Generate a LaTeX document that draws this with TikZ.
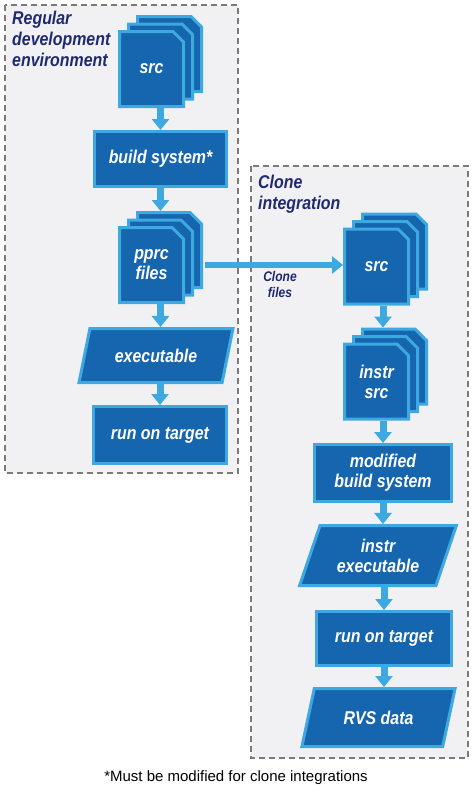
\documentclass[tikz,border=0pt]{standalone}
\usepackage{fontspec}
\setmainfont{Liberation Sans}
\newfontfamily\narrowfont[FakeStretch=0.86]{Liberation Sans}
\usetikzlibrary{arrows.meta,shapes.misc,shapes.geometric,shadows}
\definecolor{boxblue}{HTML}{1565AF}
\definecolor{edgeblue}{HTML}{3DA9E0}
\definecolor{navy}{HTML}{1F2970}
\definecolor{regionfill}{HTML}{F1F1F3}
\definecolor{dashgray}{HTML}{7A7A7A}
\begin{document}
\begin{tikzpicture}[x=1pt,y=-1pt,
  region/.style={draw=dashgray, fill=regionfill, line width=2pt, dash pattern=on 6pt off 4pt},
  heading/.style={anchor=north west, align=left, inner sep=0pt, text=navy,
    font=\narrowfont\bfseries\itshape\fontsize{18.5}{21}\selectfont},
  boxtext/.style={draw=edgeblue, fill=boxblue, line width=3pt, text=white, align=center, inner sep=2pt,
    font=\narrowfont\bfseries\itshape\fontsize{18.5}{20}\selectfont},
  stepbox/.style={boxtext, rectangle},
  databox/.style={boxtext, trapezium, trapezium left angle=68, trapezium right angle=112, trapezium stretches=true},
  docs/.style={boxtext, chamfered rectangle, chamfered rectangle corners=north east, chamfered rectangle xsep=8pt,
    minimum width=64pt, minimum height=75pt,
    copy shadow={shadow xshift=18pt, shadow yshift=15pt}, copy shadow={shadow xshift=9pt, shadow yshift=7.5pt}},
  flow/.style={draw=edgeblue, line width=7pt, -{Triangle[width=17pt,length=11pt]}}]
\useasboundingbox (0,0) rectangle (474,796);
% dashed regions
\draw [region] (5,5) rectangle (238,473);
\draw [region] (251,166) rectangle (468,758);
\node [heading] (devtitle) at (12,11) {Regular\\development\\environment};
\node [heading] (clonetitle) at (258,175) {Clone\\integration};
% regular flow
\node [docs] (srcA) at (151.5,69) {src};
\node [stepbox, minimum width=132pt, minimum height=55pt] (buildA) at (160.5,159) {build system*};
\node [docs] (pprc) at (151.5,265) {pprc\\files};
\node [databox, minimum width=155pt, minimum height=54pt] (execA) at (156,355.5) {executable};
\node [stepbox, minimum width=133pt, minimum height=57pt] (runA) at (160,435) {run on target};
% clone flow
\node [docs] (srcB) at (376.5,266.5) {src};
\node [docs] (instr) at (376.5,381.5) {instr\\src};
\node [stepbox, minimum width=137pt, minimum height=57pt] (buildB) at (383,473) {modified\\build system};
\node [databox, minimum width=157pt, minimum height=60pt] (execB) at (378,555.5) {instr\\executable};
\node [stepbox, minimum width=135pt, minimum height=54pt] (runB) at (384,638.5) {run on target};
\node [databox, minimum width=154pt, minimum height=58pt] (rvs) at (378.5,717.5) {RVS data};
\coordinate (pprctop) at ([yshift=15pt]pprc.north);
\coordinate (instrtop) at ([yshift=15pt]instr.north);
\draw [flow] (srcA.south -| buildA.north) -- (buildA.north);
\draw [flow] (buildA.south) -- (buildA.south |- pprctop);
\draw [flow] (pprc.south -| buildA.south) -- (execA.north -| buildA.south);
\draw [flow] (execA.south -| runA.north) -- (runA.north);
\draw [flow, line width=6pt] ([xshift=20pt]pprc.east) -- (srcB.west |- pprc.east);
\node [text=navy, align=center, inner sep=0pt, font=\narrowfont\bfseries\itshape\fontsize{14}{16}\selectfont] (clonefiles) at (280,284) {Clone\\files};
\draw [flow] (srcB.south -| buildB.north) -- (instrtop -| buildB.north);
\draw [flow] (instr.south -| buildB.north) -- (buildB.north);
\draw [flow] (buildB.south) -- (buildB.south |- execB.north);
\draw [flow] (execB.south -| runB.north) -- (runB.north);
\draw [flow] (runB.south) -- (runB.south |- rvs.north);
\node [font=\fontsize{15}{18}\selectfont] (note) at (236,778) {*Must be modified for clone integrations};
\end{tikzpicture}
\end{document}
